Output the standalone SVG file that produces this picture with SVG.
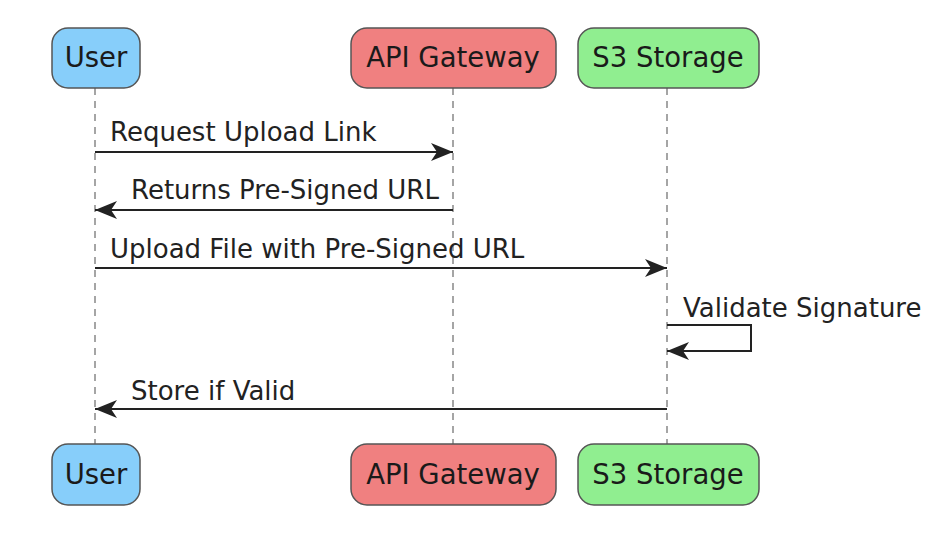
<svg xmlns="http://www.w3.org/2000/svg" width="944" height="554" viewBox="0 0 944 554">
<style>
.t{font-family:"DejaVu Sans",sans-serif;font-size:26px;fill:#222}
.n{font-family:"DejaVu Sans",sans-serif;font-size:27.5px;fill:#1a1a1a;text-anchor:middle}
.life{stroke:#888;stroke-width:1.5;stroke-dasharray:7,6}
.msg{stroke:#222;stroke-width:2;fill:none;marker-end:url(#ah)}
.box{stroke:#555;stroke-width:1.5}
</style>
<defs>
<marker id="ah" markerWidth="24" markerHeight="18" refX="22" refY="9" orient="auto" markerUnits="userSpaceOnUse">
<path d="M0,0 L22,9 L0,18 L6,9 Z" fill="#222"/>
</marker>
</defs>
<rect width="944" height="554" fill="#fff"/>
<g id="lifelines">
<line class="life" x1="95" y1="88" x2="95" y2="444"/>
<line class="life" x1="453" y1="88" x2="453" y2="444"/>
<line class="life" x1="667" y1="88" x2="667" y2="444"/>
</g>
<g id="user">
<rect class="box" x="52" y="28" width="88" height="60" rx="16" fill="#87cefa"/>
<text class="n" x="96" y="67">User</text>
<rect class="box" x="52" y="444" width="88" height="61" rx="16" fill="#87cefa"/>
<text class="n" x="96" y="484">User</text>
</g>
<g id="api">
<rect class="box" x="351" y="28" width="205" height="60" rx="16" fill="#f08080"/>
<text class="n" x="453" y="67">API Gateway</text>
<rect class="box" x="351" y="444" width="205" height="61" rx="16" fill="#f08080"/>
<text class="n" x="453" y="484">API Gateway</text>
</g>
<g id="s3">
<rect class="box" x="578" y="28" width="181" height="60" rx="16" fill="#90ee90"/>
<text class="n" x="668" y="67">S3 Storage</text>
<rect class="box" x="578" y="444" width="181" height="61" rx="16" fill="#90ee90"/>
<text class="n" x="668" y="484">S3 Storage</text>
</g>
<g id="connectors">
<line class="msg" x1="95" y1="152" x2="453" y2="152"/>
<text class="t" x="110" y="141">Request Upload Link</text>
<line class="msg" x1="453" y1="210" x2="95" y2="210"/>
<text class="t" x="131" y="199">Returns Pre-Signed URL</text>
<line class="msg" x1="95" y1="268" x2="667" y2="268"/>
<text class="t" x="110" y="258">Upload File with Pre-Signed URL</text>
<polyline class="msg" points="667,325 751,325 751,351 667,351"/>
<text class="t" x="683" y="317">Validate Signature</text>
<line class="msg" x1="667" y1="409" x2="95" y2="409"/>
<text class="t" x="131" y="400">Store if Valid</text>
</g>
</svg>
